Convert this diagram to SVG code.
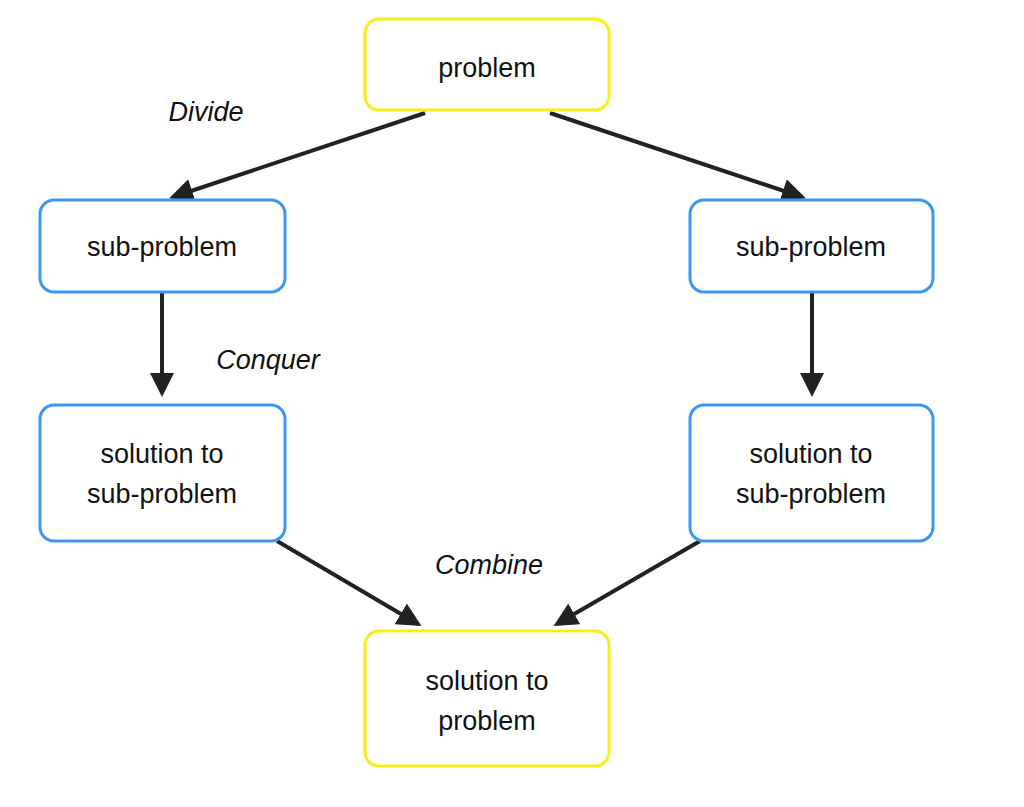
<svg xmlns="http://www.w3.org/2000/svg" width="1024" height="807" viewBox="0 0 1024 807">
<style>
.y{fill:#fff;stroke:#f7ef1a;stroke-width:3}
.b{fill:#fff;stroke:#3c97f4;stroke-width:3}
text{font-family:"Liberation Sans",Arial,sans-serif;font-size:27px;fill:#111;text-anchor:middle}
.l{font-style:italic}
.c{stroke:#222;stroke-width:4;fill:none;marker-end:url(#a)}
</style>
<defs><marker id="a" markerWidth="6" markerHeight="6" refX="5" refY="3" orient="auto" markerUnits="strokeWidth"><path d="M0,0L6,3L0,6z" fill="#222"/></marker></defs>
<rect width="1024" height="807" fill="#fff"/>
<g id="connectors">
<line class="c" x1="425" y1="113" x2="173" y2="197"/>
<line class="c" x1="550" y1="113" x2="802" y2="197"/>
<line class="c" x1="162" y1="293" x2="162" y2="393"/>
<line class="c" x1="812" y1="293" x2="812" y2="393"/>
<line class="c" x1="277" y1="541" x2="418" y2="624"/>
<line class="c" x1="700" y1="541" x2="557" y2="624"/>
</g>
<g id="n1"><rect class="y" x="365" y="19" width="244" height="91" rx="14"/><text x="487" y="77">problem</text></g>
<g id="n2"><rect class="b" x="40" y="200" width="245" height="92" rx="14"/><text x="162" y="256">sub-problem</text></g>
<g id="n3"><rect class="b" x="690" y="200" width="243" height="92" rx="14"/><text x="811" y="256">sub-problem</text></g>
<g id="n4"><rect class="b" x="40" y="405" width="245" height="136" rx="14"/><text x="162" y="463">solution to</text><text x="162" y="503">sub-problem</text></g>
<g id="n5"><rect class="b" x="690" y="405" width="243" height="136" rx="14"/><text x="811" y="463">solution to</text><text x="811" y="503">sub-problem</text></g>
<g id="n6"><rect class="y" x="365" y="631" width="244" height="135" rx="14"/><text x="487" y="690">solution to</text><text x="487" y="730">problem</text></g>
<text class="l" x="206" y="121">Divide</text>
<text class="l" x="268" y="369">Conquer</text>
<text class="l" x="489" y="574">Combine</text>
</svg>
